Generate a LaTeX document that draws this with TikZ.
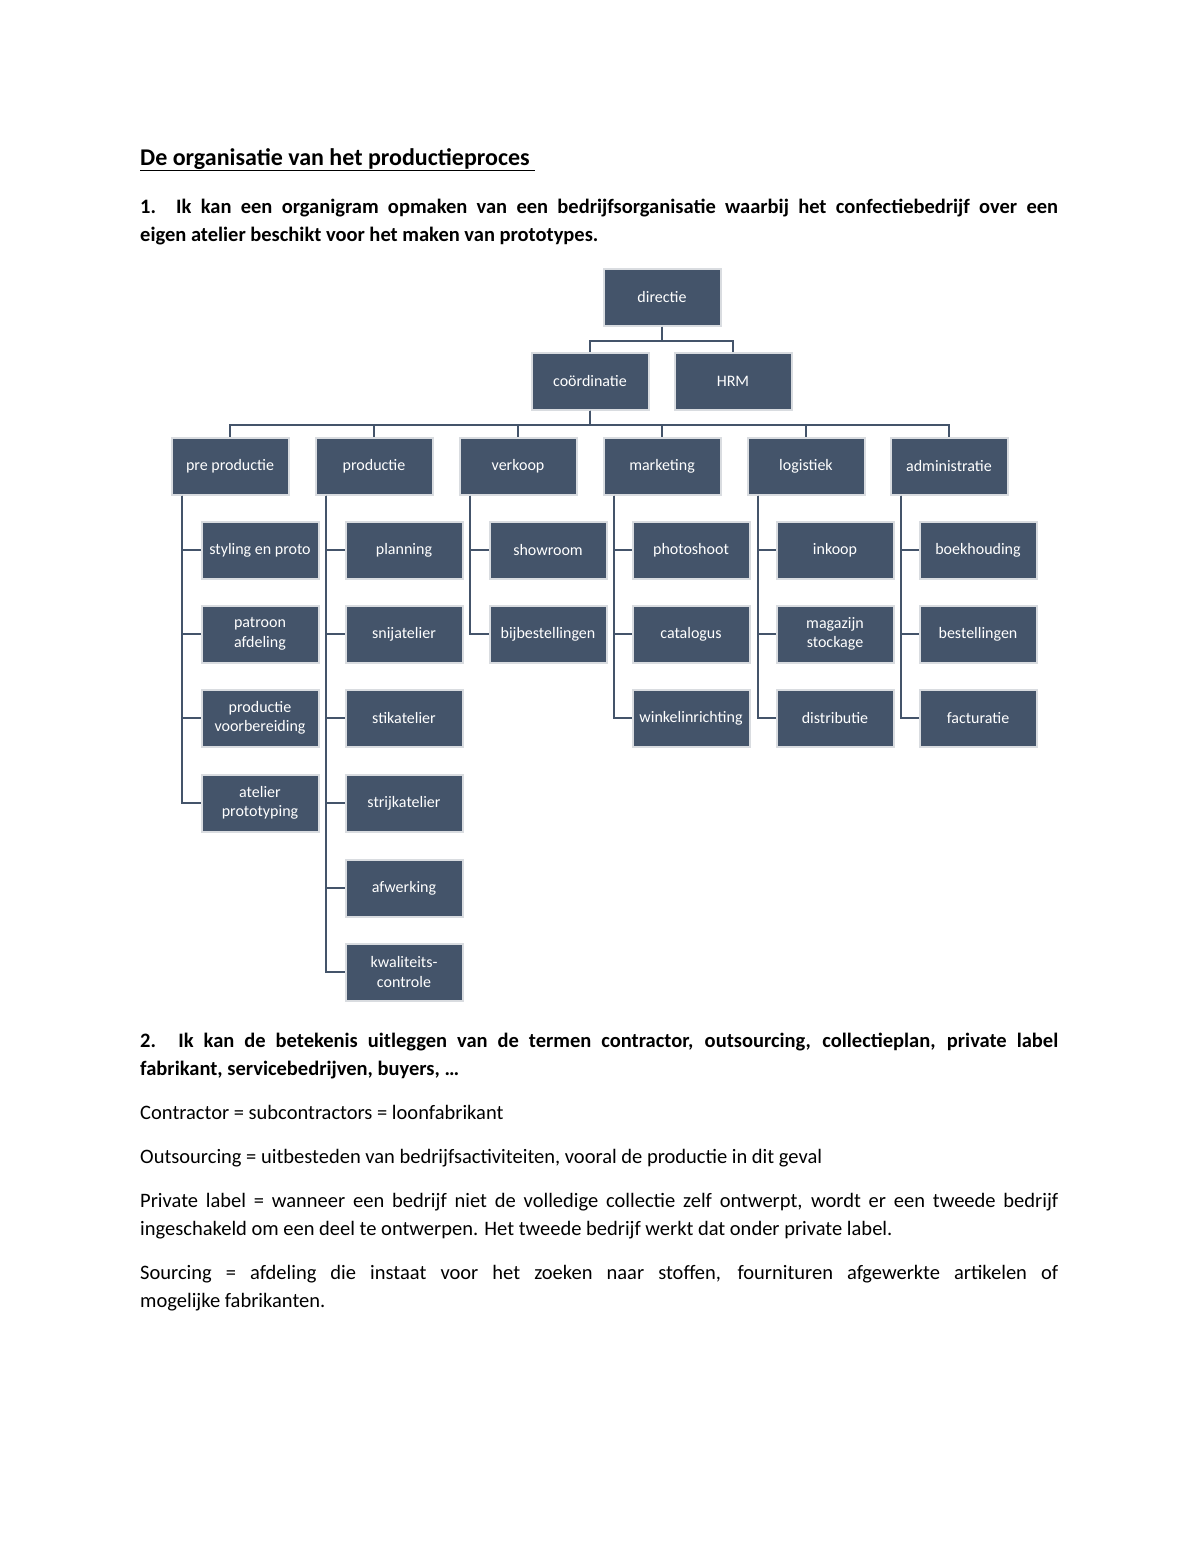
\documentclass[tikz,border=0pt]{standalone}
\usepackage{fontspec}
\setmainfont{Carlito}
\usetikzlibrary{positioning}
\definecolor{boxc}{HTML}{44546A}
\definecolor{rimc}{HTML}{D9DCE0}
\tikzset{
  org/.style={fill=boxc,draw=rimc,line width=2pt,minimum width=117pt,minimum height=57pt,
    inner sep=1pt,text=white,align=center,font=\fontsize{16}{19.5}\selectfont},
  link/.style={draw=boxc,line width=2pt},
  txt/.style={anchor=base west,inner sep=0pt,font=\fontsize{20.5}{28.5}\selectfont}
}
\begin{document}
\begin{tikzpicture}[x=1pt,y=-1pt]
\useasboundingbox[fill=white] (0,0) rectangle (1200,1553);
% text
\node[txt,font=\fontsize{24}{28}\selectfont\bfseries] (title) at (140,165) {\underline{De organisatie van het productieproces\ }};
\node[txt,text width=918pt,align=justify,font=\fontsize{20.5}{28.5}\selectfont\bfseries] (q1) at (140,213)
 {1. Ik kan een organigram opmaken van een bedrijfsorganisatie waarbij het confectiebedrijf over een\linebreak eigen atelier beschikt voor het maken van prototypes.};
\node[txt,text width=918pt,align=justify,font=\fontsize{20.5}{28.5}\selectfont\bfseries] (q2) at (140,1047)
 {2. Ik kan de betekenis uitleggen van de termen contractor, outsourcing, collectieplan, private label\linebreak fabrikant, servicebedrijven, buyers, \dots};
\node[txt] (t1) at (140,1119) {Contractor = subcontractors = loonfabrikant};
\node[txt] (t2) at (140,1163) {Outsourcing = uitbesteden van bedrijfsactiviteiten, vooral de productie in dit geval};
\node[txt,text width=918pt,align=justify] (t3) at (140,1207)
 {Private label = wanneer een bedrijf niet de volledige collectie zelf ontwerpt, wordt er een tweede bedrijf\linebreak ingeschakeld om een deel te ontwerpen. Het tweede bedrijf werkt dat onder private label.};
\node[txt,text width=918pt,align=justify] (t4) at (140,1279)
 {Sourcing = afdeling die instaat voor het zoeken naar stoffen, fournituren afgewerkte artikelen of\linebreak mogelijke fabrikanten.};
% organigram
\node[org] (dir) at (662,297) {directie};
\node[org] (coo) at (590,381) {coördinatie};
\node[org] (hrm) at (733,381) {HRM};
\node[org] (pre) at (230,466) {pre productie};
\node[org] (pro) at (374,466) {productie};
\node[org] (ver) at (518,466) {verkoop};
\node[org] (mar) at (662,466) {marketing};
\node[org] (log) at (806,466) {logistiek};
\node[org] (adm) at (949,466) {administratie};
\node[org] (pre1) at (260,550) {styling en proto};
\node[org] (pre2) at (260,634) {patroon\\afdeling};
\node[org] (pre3) at (260,718) {productie\\voorbereiding};
\node[org] (pre4) at (260,803) {atelier\\prototyping};
\node[org] (pro1) at (404,550) {planning};
\node[org] (pro2) at (404,634) {snijatelier};
\node[org] (pro3) at (404,718) {stikatelier};
\node[org] (pro4) at (404,803) {strijkatelier};
\node[org] (pro5) at (404,888) {afwerking};
\node[org] (pro6) at (404,972) {kwaliteits-\\controle};
\node[org] (ver1) at (548,550) {showroom};
\node[org] (ver2) at (548,634) {bijbestellingen};
\node[org] (mar1) at (691,550) {photoshoot};
\node[org] (mar2) at (691,634) {catalogus};
\node[org] (mar3) at (691,718) {winkelinrichting};
\node[org] (log1) at (835,550) {inkoop};
\node[org] (log2) at (835,634) {magazijn\\stockage};
\node[org] (log3) at (835,718) {distributie};
\node[org] (adm1) at (978,550) {boekhouding};
\node[org] (adm2) at (978,634) {bestellingen};
\node[org] (adm3) at (978,718) {facturatie};
\draw[link] (dir.south) -- ++(0,14) -| (coo.north);
\draw[link] (dir.south) -- ++(0,14) -| (hrm.north);
\foreach \t in {pre,pro,ver,mar,log,adm}
  \draw[link] (coo.south) -- ++(0,14) -| (\t.north);
\foreach \t/\n in {pre/4,pro/6,ver/2,mar/3,log/3,adm/3}
  \foreach \i in {1,...,\n}
    \draw[link] ([xshift=11pt]\t.south west) |- (\t\i.west);
\end{tikzpicture}
\end{document}
